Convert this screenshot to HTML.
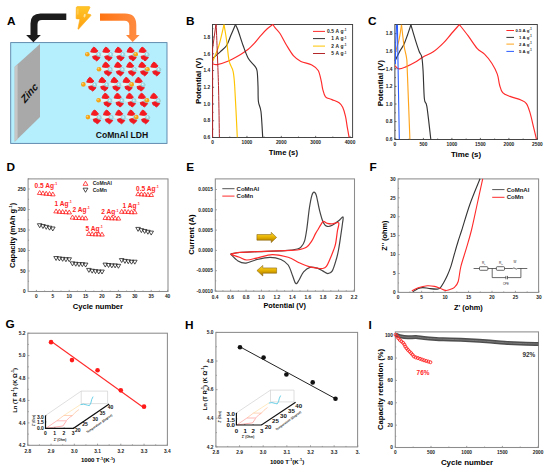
<!DOCTYPE html><html><head><meta charset="utf-8"><style>html,body{margin:0;padding:0;background:#fff;}svg{display:block;}text{font-family:"Liberation Sans", sans-serif;}</style></head><body>
<svg width="550" height="471" viewBox="0 0 550 471">
<rect width="550" height="471" fill="#fff"/>
<text x="7" y="24.6" font-size="11.8" text-anchor="start" font-weight="bold" fill="#000" >A</text>
<rect x="10.7" y="42.6" width="156.3" height="100.8" fill="#b5eefd" stroke="#5682a8" stroke-width="0.9"/>
<path d="M14.7,66.8 L40,44 L40,117.1 L14.7,141.7 Z" fill="#a9a9a9"/>
<path d="M14.7,66.8 L17.6,64.2 L17.6,138.9 L14.7,141.7 Z" fill="#c6c6c6"/>
<text transform="translate(25.0,103.6) rotate(-50) skewX(-6)" x="0" y="0" font-size="10.3" font-weight="bold" font-style="italic" fill="#111">Zinc</text>
<path d="M66.3,13.5 L40.5,13.5 Q30.5,13.5 30.5,23.5 L30.5,35 L26.1,35 L33.4,42.2 L40.9,35 L37.5,35 L37.5,24.5 Q37.5,20.1 41.9,20.1 L66.3,20.1 Z" fill="#1c1c1c"/>
<defs><linearGradient id="og" x1="0" y1="0" x2="1" y2="0"><stop offset="0" stop-color="#ff7412"/><stop offset="1" stop-color="#ff8d45"/></linearGradient><linearGradient id="lg" x1="0" y1="0" x2="0" y2="1"><stop offset="0" stop-color="#ffc626"/><stop offset="1" stop-color="#ff9f10"/></linearGradient><linearGradient id="ag" x1="0" y1="0" x2="0" y2="1"><stop offset="0" stop-color="#f5d445"/><stop offset="0.45" stop-color="#e8b400"/><stop offset="1" stop-color="#a27000"/></linearGradient></defs>
<path d="M100,13.6 L125,13.6 Q136.3,13.6 136.3,25 L136.3,34.9 L139.6,34.9 L132.7,42 L126,34.9 L129.3,34.9 L129.3,25.5 Q129.3,20.7 124.5,20.7 L100,20.7 Z" fill="url(#og)"/>
<path d="M76.3,7.3 L77.2,6.6 L89.4,6.6 L90.0,7.4 L87.0,13.7 L90.6,14.6 L90.9,15.5 L78.4,29.3 L77.9,28.9 L79.9,18.9 L76.6,18.9 L76.1,18.3 Z" fill="url(#lg)" stroke="#fbad14" stroke-width="0.6" stroke-linejoin="round"/>
<path d="M77.9,8.6 V14.6" stroke="#ffe39a" stroke-width="0.6"/><path d="M84.2,14 L85.8,14 L85.1,15.6 L86.2,15.6 L83.6,18.6 L84.3,16.7 L83.3,16.7 Z" fill="#ffe3a0"/>
<path d="M87.3,54.3 H149.3" stroke="#d6f1f3" stroke-width="3.0"/><path d="M87.3,55 H149.3" stroke="#e2c462" stroke-width="0.9" stroke-dasharray="2.2 1.6" opacity="0.9"/><ellipse cx="92.5" cy="54.2" rx="3.6" ry="2.0" fill="#ddf5f7" stroke="#a9d7de" stroke-width="0.3"/><path d="M90.7,51.9 L91.7,49.3 L93.6,47.1 L95.4,48 L96.3,49.3 L97.9,50.8 L96.9,52.1 L94.7,52.5 Z" fill="#f51a20" stroke="#f51a20" stroke-width="0.9" stroke-linejoin="round"/><path d="M92.6,56.4 L95.3,55.7 L98,56.4 L100,57.5 L98.4,59.6 L96.6,60.9 L95.1,59.6 L93.3,58.7 Z" fill="#f01820" stroke="#f01820" stroke-width="0.9" stroke-linejoin="round"/><circle cx="98.7" cy="54.6" r="2.1" fill="#9fdde8" stroke="#6fb0c2" stroke-width="0.35"/><circle cx="98.3" cy="54.1" r="0.8" fill="#effcfd"/><ellipse cx="104.6" cy="54.2" rx="3.6" ry="2.0" fill="#ddf5f7" stroke="#a9d7de" stroke-width="0.3"/><path d="M102.8,51.9 L103.8,49.3 L105.7,47.1 L107.5,48 L108.4,49.3 L110,50.8 L109,52.1 L106.8,52.5 Z" fill="#f51a20" stroke="#f51a20" stroke-width="0.9" stroke-linejoin="round"/><path d="M104.7,56.4 L107.4,55.7 L110.1,56.4 L112.1,57.5 L110.5,59.6 L108.7,60.9 L107.2,59.6 L105.4,58.7 Z" fill="#f01820" stroke="#f01820" stroke-width="0.9" stroke-linejoin="round"/><circle cx="110.8" cy="54.6" r="2.1" fill="#9fdde8" stroke="#6fb0c2" stroke-width="0.35"/><circle cx="110.4" cy="54.1" r="0.8" fill="#effcfd"/><ellipse cx="116.7" cy="54.2" rx="3.6" ry="2.0" fill="#ddf5f7" stroke="#a9d7de" stroke-width="0.3"/><path d="M114.9,51.9 L115.9,49.3 L117.8,47.1 L119.6,48 L120.5,49.3 L122.1,50.8 L121.1,52.1 L118.9,52.5 Z" fill="#f51a20" stroke="#f51a20" stroke-width="0.9" stroke-linejoin="round"/><path d="M116.8,56.4 L119.5,55.7 L122.2,56.4 L124.2,57.5 L122.6,59.6 L120.8,60.9 L119.3,59.6 L117.5,58.7 Z" fill="#f01820" stroke="#f01820" stroke-width="0.9" stroke-linejoin="round"/><circle cx="122.9" cy="54.6" r="2.1" fill="#9fdde8" stroke="#6fb0c2" stroke-width="0.35"/><circle cx="122.5" cy="54.1" r="0.8" fill="#effcfd"/><ellipse cx="128.8" cy="54.2" rx="3.6" ry="2.0" fill="#ddf5f7" stroke="#a9d7de" stroke-width="0.3"/><path d="M127,51.9 L128,49.3 L129.9,47.1 L131.7,48 L132.6,49.3 L134.2,50.8 L133.2,52.1 L131,52.5 Z" fill="#f51a20" stroke="#f51a20" stroke-width="0.9" stroke-linejoin="round"/><path d="M128.9,56.4 L131.6,55.7 L134.3,56.4 L136.3,57.5 L134.7,59.6 L132.9,60.9 L131.4,59.6 L129.6,58.7 Z" fill="#f01820" stroke="#f01820" stroke-width="0.9" stroke-linejoin="round"/><circle cx="135" cy="54.6" r="2.1" fill="#9fdde8" stroke="#6fb0c2" stroke-width="0.35"/><circle cx="134.6" cy="54.1" r="0.8" fill="#effcfd"/><ellipse cx="140.9" cy="54.2" rx="3.6" ry="2.0" fill="#ddf5f7" stroke="#a9d7de" stroke-width="0.3"/><path d="M139.1,51.9 L140.1,49.3 L142,47.1 L143.8,48 L144.7,49.3 L146.3,50.8 L145.3,52.1 L143.1,52.5 Z" fill="#f51a20" stroke="#f51a20" stroke-width="0.9" stroke-linejoin="round"/><path d="M141,56.4 L143.7,55.7 L146.4,56.4 L148.4,57.5 L146.8,59.6 L145,60.9 L143.5,59.6 L141.7,58.7 Z" fill="#f01820" stroke="#f01820" stroke-width="0.9" stroke-linejoin="round"/><circle cx="147.1" cy="54.6" r="2.1" fill="#9fdde8" stroke="#6fb0c2" stroke-width="0.35"/><circle cx="146.7" cy="54.1" r="0.8" fill="#effcfd"/><circle cx="87.3" cy="54.2" r="2.3" fill="#f5a312"/><circle cx="86.7" cy="53.5" r="0.9" fill="#fcd070"/><circle cx="135.7" cy="54.2" r="2.3" fill="#f5a312"/><circle cx="135.1" cy="53.5" r="0.9" fill="#fcd070"/>
<path d="M99,69.3 H161" stroke="#d6f1f3" stroke-width="3.0"/><path d="M99,70 H161" stroke="#e2c462" stroke-width="0.9" stroke-dasharray="2.2 1.6" opacity="0.9"/><ellipse cx="104.2" cy="69.2" rx="3.6" ry="2.0" fill="#ddf5f7" stroke="#a9d7de" stroke-width="0.3"/><path d="M102.4,66.9 L103.4,64.3 L105.3,62.1 L107.1,63 L108,64.3 L109.6,65.8 L108.6,67.1 L106.4,67.5 Z" fill="#f51a20" stroke="#f51a20" stroke-width="0.9" stroke-linejoin="round"/><path d="M104.3,71.4 L107,70.7 L109.7,71.4 L111.7,72.5 L110.1,74.6 L108.3,75.9 L106.8,74.6 L105,73.7 Z" fill="#f01820" stroke="#f01820" stroke-width="0.9" stroke-linejoin="round"/><circle cx="110.4" cy="69.6" r="2.1" fill="#9fdde8" stroke="#6fb0c2" stroke-width="0.35"/><circle cx="110" cy="69.1" r="0.8" fill="#effcfd"/><ellipse cx="116.3" cy="69.2" rx="3.6" ry="2.0" fill="#ddf5f7" stroke="#a9d7de" stroke-width="0.3"/><path d="M114.5,66.9 L115.5,64.3 L117.4,62.1 L119.2,63 L120.1,64.3 L121.7,65.8 L120.7,67.1 L118.5,67.5 Z" fill="#f51a20" stroke="#f51a20" stroke-width="0.9" stroke-linejoin="round"/><path d="M116.4,71.4 L119.1,70.7 L121.8,71.4 L123.8,72.5 L122.2,74.6 L120.4,75.9 L118.9,74.6 L117.1,73.7 Z" fill="#f01820" stroke="#f01820" stroke-width="0.9" stroke-linejoin="round"/><circle cx="122.5" cy="69.6" r="2.1" fill="#9fdde8" stroke="#6fb0c2" stroke-width="0.35"/><circle cx="122.1" cy="69.1" r="0.8" fill="#effcfd"/><ellipse cx="128.4" cy="69.2" rx="3.6" ry="2.0" fill="#ddf5f7" stroke="#a9d7de" stroke-width="0.3"/><path d="M126.6,66.9 L127.6,64.3 L129.5,62.1 L131.3,63 L132.2,64.3 L133.8,65.8 L132.8,67.1 L130.6,67.5 Z" fill="#f51a20" stroke="#f51a20" stroke-width="0.9" stroke-linejoin="round"/><path d="M128.5,71.4 L131.2,70.7 L133.9,71.4 L135.9,72.5 L134.3,74.6 L132.5,75.9 L131,74.6 L129.2,73.7 Z" fill="#f01820" stroke="#f01820" stroke-width="0.9" stroke-linejoin="round"/><circle cx="134.6" cy="69.6" r="2.1" fill="#9fdde8" stroke="#6fb0c2" stroke-width="0.35"/><circle cx="134.2" cy="69.1" r="0.8" fill="#effcfd"/><ellipse cx="140.5" cy="69.2" rx="3.6" ry="2.0" fill="#ddf5f7" stroke="#a9d7de" stroke-width="0.3"/><path d="M138.7,66.9 L139.7,64.3 L141.6,62.1 L143.4,63 L144.3,64.3 L145.9,65.8 L144.9,67.1 L142.7,67.5 Z" fill="#f51a20" stroke="#f51a20" stroke-width="0.9" stroke-linejoin="round"/><path d="M140.6,71.4 L143.3,70.7 L146,71.4 L148,72.5 L146.4,74.6 L144.6,75.9 L143.1,74.6 L141.3,73.7 Z" fill="#f01820" stroke="#f01820" stroke-width="0.9" stroke-linejoin="round"/><circle cx="146.7" cy="69.6" r="2.1" fill="#9fdde8" stroke="#6fb0c2" stroke-width="0.35"/><circle cx="146.3" cy="69.1" r="0.8" fill="#effcfd"/><ellipse cx="152.6" cy="69.2" rx="3.6" ry="2.0" fill="#ddf5f7" stroke="#a9d7de" stroke-width="0.3"/><path d="M150.8,66.9 L151.8,64.3 L153.7,62.1 L155.5,63 L156.4,64.3 L158,65.8 L157,67.1 L154.8,67.5 Z" fill="#f51a20" stroke="#f51a20" stroke-width="0.9" stroke-linejoin="round"/><path d="M152.7,71.4 L155.4,70.7 L158.1,71.4 L160.1,72.5 L158.5,74.6 L156.7,75.9 L155.2,74.6 L153.4,73.7 Z" fill="#f01820" stroke="#f01820" stroke-width="0.9" stroke-linejoin="round"/><circle cx="158.8" cy="69.6" r="2.1" fill="#9fdde8" stroke="#6fb0c2" stroke-width="0.35"/><circle cx="158.4" cy="69.1" r="0.8" fill="#effcfd"/><circle cx="99" cy="69.2" r="2.3" fill="#f5a312"/><circle cx="98.4" cy="68.5" r="0.9" fill="#fcd070"/><circle cx="147.4" cy="69.2" r="2.3" fill="#f5a312"/><circle cx="146.8" cy="68.5" r="0.9" fill="#fcd070"/>
<path d="M83.3,84.5 H145.3" stroke="#d6f1f3" stroke-width="3.0"/><path d="M83.3,85.2 H145.3" stroke="#e2c462" stroke-width="0.9" stroke-dasharray="2.2 1.6" opacity="0.9"/><ellipse cx="88.5" cy="84.4" rx="3.6" ry="2.0" fill="#ddf5f7" stroke="#a9d7de" stroke-width="0.3"/><path d="M86.7,82.1 L87.7,79.5 L89.6,77.3 L91.4,78.2 L92.3,79.5 L93.9,81 L92.9,82.3 L90.7,82.7 Z" fill="#f51a20" stroke="#f51a20" stroke-width="0.9" stroke-linejoin="round"/><path d="M88.6,86.6 L91.3,85.9 L94,86.6 L96,87.7 L94.4,89.8 L92.6,91.1 L91.1,89.8 L89.3,88.9 Z" fill="#f01820" stroke="#f01820" stroke-width="0.9" stroke-linejoin="round"/><circle cx="94.7" cy="84.8" r="2.1" fill="#9fdde8" stroke="#6fb0c2" stroke-width="0.35"/><circle cx="94.3" cy="84.3" r="0.8" fill="#effcfd"/><ellipse cx="100.6" cy="84.4" rx="3.6" ry="2.0" fill="#ddf5f7" stroke="#a9d7de" stroke-width="0.3"/><path d="M98.8,82.1 L99.8,79.5 L101.7,77.3 L103.5,78.2 L104.4,79.5 L106,81 L105,82.3 L102.8,82.7 Z" fill="#f51a20" stroke="#f51a20" stroke-width="0.9" stroke-linejoin="round"/><path d="M100.7,86.6 L103.4,85.9 L106.1,86.6 L108.1,87.7 L106.5,89.8 L104.7,91.1 L103.2,89.8 L101.4,88.9 Z" fill="#f01820" stroke="#f01820" stroke-width="0.9" stroke-linejoin="round"/><circle cx="106.8" cy="84.8" r="2.1" fill="#9fdde8" stroke="#6fb0c2" stroke-width="0.35"/><circle cx="106.4" cy="84.3" r="0.8" fill="#effcfd"/><ellipse cx="112.7" cy="84.4" rx="3.6" ry="2.0" fill="#ddf5f7" stroke="#a9d7de" stroke-width="0.3"/><path d="M110.9,82.1 L111.9,79.5 L113.8,77.3 L115.6,78.2 L116.5,79.5 L118.1,81 L117.1,82.3 L114.9,82.7 Z" fill="#f51a20" stroke="#f51a20" stroke-width="0.9" stroke-linejoin="round"/><path d="M112.8,86.6 L115.5,85.9 L118.2,86.6 L120.2,87.7 L118.6,89.8 L116.8,91.1 L115.3,89.8 L113.5,88.9 Z" fill="#f01820" stroke="#f01820" stroke-width="0.9" stroke-linejoin="round"/><circle cx="118.9" cy="84.8" r="2.1" fill="#9fdde8" stroke="#6fb0c2" stroke-width="0.35"/><circle cx="118.5" cy="84.3" r="0.8" fill="#effcfd"/><ellipse cx="124.8" cy="84.4" rx="3.6" ry="2.0" fill="#ddf5f7" stroke="#a9d7de" stroke-width="0.3"/><path d="M123,82.1 L124,79.5 L125.9,77.3 L127.7,78.2 L128.6,79.5 L130.2,81 L129.2,82.3 L127,82.7 Z" fill="#f51a20" stroke="#f51a20" stroke-width="0.9" stroke-linejoin="round"/><path d="M124.9,86.6 L127.6,85.9 L130.3,86.6 L132.3,87.7 L130.7,89.8 L128.9,91.1 L127.4,89.8 L125.6,88.9 Z" fill="#f01820" stroke="#f01820" stroke-width="0.9" stroke-linejoin="round"/><circle cx="131" cy="84.8" r="2.1" fill="#9fdde8" stroke="#6fb0c2" stroke-width="0.35"/><circle cx="130.6" cy="84.3" r="0.8" fill="#effcfd"/><ellipse cx="136.9" cy="84.4" rx="3.6" ry="2.0" fill="#ddf5f7" stroke="#a9d7de" stroke-width="0.3"/><path d="M135.1,82.1 L136.1,79.5 L138,77.3 L139.8,78.2 L140.7,79.5 L142.3,81 L141.3,82.3 L139.1,82.7 Z" fill="#f51a20" stroke="#f51a20" stroke-width="0.9" stroke-linejoin="round"/><path d="M137,86.6 L139.7,85.9 L142.4,86.6 L144.4,87.7 L142.8,89.8 L141,91.1 L139.5,89.8 L137.7,88.9 Z" fill="#f01820" stroke="#f01820" stroke-width="0.9" stroke-linejoin="round"/><circle cx="143.1" cy="84.8" r="2.1" fill="#9fdde8" stroke="#6fb0c2" stroke-width="0.35"/><circle cx="142.7" cy="84.3" r="0.8" fill="#effcfd"/><circle cx="83.3" cy="84.4" r="2.3" fill="#f5a312"/><circle cx="82.7" cy="83.7" r="0.9" fill="#fcd070"/><circle cx="131.7" cy="84.4" r="2.3" fill="#f5a312"/><circle cx="131.1" cy="83.7" r="0.9" fill="#fcd070"/>
<path d="M98.6,100.4 H160.6" stroke="#d6f1f3" stroke-width="3.0"/><path d="M98.6,101.1 H160.6" stroke="#e2c462" stroke-width="0.9" stroke-dasharray="2.2 1.6" opacity="0.9"/><ellipse cx="103.8" cy="100.3" rx="3.6" ry="2.0" fill="#ddf5f7" stroke="#a9d7de" stroke-width="0.3"/><path d="M102,98 L103,95.4 L104.9,93.2 L106.7,94.1 L107.6,95.4 L109.2,96.9 L108.2,98.2 L106,98.6 Z" fill="#f51a20" stroke="#f51a20" stroke-width="0.9" stroke-linejoin="round"/><path d="M103.9,102.5 L106.6,101.8 L109.3,102.5 L111.3,103.6 L109.7,105.7 L107.9,107 L106.4,105.7 L104.6,104.8 Z" fill="#f01820" stroke="#f01820" stroke-width="0.9" stroke-linejoin="round"/><circle cx="110" cy="100.7" r="2.1" fill="#9fdde8" stroke="#6fb0c2" stroke-width="0.35"/><circle cx="109.6" cy="100.2" r="0.8" fill="#effcfd"/><ellipse cx="115.9" cy="100.3" rx="3.6" ry="2.0" fill="#ddf5f7" stroke="#a9d7de" stroke-width="0.3"/><path d="M114.1,98 L115.1,95.4 L117,93.2 L118.8,94.1 L119.7,95.4 L121.3,96.9 L120.3,98.2 L118.1,98.6 Z" fill="#f51a20" stroke="#f51a20" stroke-width="0.9" stroke-linejoin="round"/><path d="M116,102.5 L118.7,101.8 L121.4,102.5 L123.4,103.6 L121.8,105.7 L120,107 L118.5,105.7 L116.7,104.8 Z" fill="#f01820" stroke="#f01820" stroke-width="0.9" stroke-linejoin="round"/><circle cx="122.1" cy="100.7" r="2.1" fill="#9fdde8" stroke="#6fb0c2" stroke-width="0.35"/><circle cx="121.7" cy="100.2" r="0.8" fill="#effcfd"/><ellipse cx="128" cy="100.3" rx="3.6" ry="2.0" fill="#ddf5f7" stroke="#a9d7de" stroke-width="0.3"/><path d="M126.2,98 L127.2,95.4 L129.1,93.2 L130.9,94.1 L131.8,95.4 L133.4,96.9 L132.4,98.2 L130.2,98.6 Z" fill="#f51a20" stroke="#f51a20" stroke-width="0.9" stroke-linejoin="round"/><path d="M128.1,102.5 L130.8,101.8 L133.5,102.5 L135.5,103.6 L133.9,105.7 L132.1,107 L130.6,105.7 L128.8,104.8 Z" fill="#f01820" stroke="#f01820" stroke-width="0.9" stroke-linejoin="round"/><circle cx="134.2" cy="100.7" r="2.1" fill="#9fdde8" stroke="#6fb0c2" stroke-width="0.35"/><circle cx="133.8" cy="100.2" r="0.8" fill="#effcfd"/><ellipse cx="140.1" cy="100.3" rx="3.6" ry="2.0" fill="#ddf5f7" stroke="#a9d7de" stroke-width="0.3"/><path d="M138.3,98 L139.3,95.4 L141.2,93.2 L143,94.1 L143.9,95.4 L145.5,96.9 L144.5,98.2 L142.3,98.6 Z" fill="#f51a20" stroke="#f51a20" stroke-width="0.9" stroke-linejoin="round"/><path d="M140.2,102.5 L142.9,101.8 L145.6,102.5 L147.6,103.6 L146,105.7 L144.2,107 L142.7,105.7 L140.9,104.8 Z" fill="#f01820" stroke="#f01820" stroke-width="0.9" stroke-linejoin="round"/><circle cx="146.3" cy="100.7" r="2.1" fill="#9fdde8" stroke="#6fb0c2" stroke-width="0.35"/><circle cx="145.9" cy="100.2" r="0.8" fill="#effcfd"/><ellipse cx="152.2" cy="100.3" rx="3.6" ry="2.0" fill="#ddf5f7" stroke="#a9d7de" stroke-width="0.3"/><path d="M150.4,98 L151.4,95.4 L153.3,93.2 L155.1,94.1 L156,95.4 L157.6,96.9 L156.6,98.2 L154.4,98.6 Z" fill="#f51a20" stroke="#f51a20" stroke-width="0.9" stroke-linejoin="round"/><path d="M152.3,102.5 L155,101.8 L157.7,102.5 L159.7,103.6 L158.1,105.7 L156.3,107 L154.8,105.7 L153,104.8 Z" fill="#f01820" stroke="#f01820" stroke-width="0.9" stroke-linejoin="round"/><circle cx="158.4" cy="100.7" r="2.1" fill="#9fdde8" stroke="#6fb0c2" stroke-width="0.35"/><circle cx="158" cy="100.2" r="0.8" fill="#effcfd"/><circle cx="98.6" cy="100.3" r="2.3" fill="#f5a312"/><circle cx="98" cy="99.6" r="0.9" fill="#fcd070"/><circle cx="147" cy="100.3" r="2.3" fill="#f5a312"/><circle cx="146.4" cy="99.6" r="0.9" fill="#fcd070"/>
<path d="M87.9,117.2 H149.9" stroke="#d6f1f3" stroke-width="3.0"/><path d="M87.9,117.9 H149.9" stroke="#e2c462" stroke-width="0.9" stroke-dasharray="2.2 1.6" opacity="0.9"/><ellipse cx="93.1" cy="117.1" rx="3.6" ry="2.0" fill="#ddf5f7" stroke="#a9d7de" stroke-width="0.3"/><path d="M91.3,114.8 L92.3,112.2 L94.2,110 L96,110.9 L96.9,112.2 L98.5,113.7 L97.5,115 L95.3,115.4 Z" fill="#f51a20" stroke="#f51a20" stroke-width="0.9" stroke-linejoin="round"/><path d="M93.2,119.3 L95.9,118.6 L98.6,119.3 L100.6,120.4 L99,122.5 L97.2,123.8 L95.7,122.5 L93.9,121.6 Z" fill="#f01820" stroke="#f01820" stroke-width="0.9" stroke-linejoin="round"/><circle cx="99.3" cy="117.5" r="2.1" fill="#9fdde8" stroke="#6fb0c2" stroke-width="0.35"/><circle cx="98.9" cy="117" r="0.8" fill="#effcfd"/><ellipse cx="105.2" cy="117.1" rx="3.6" ry="2.0" fill="#ddf5f7" stroke="#a9d7de" stroke-width="0.3"/><path d="M103.4,114.8 L104.4,112.2 L106.3,110 L108.1,110.9 L109,112.2 L110.6,113.7 L109.6,115 L107.4,115.4 Z" fill="#f51a20" stroke="#f51a20" stroke-width="0.9" stroke-linejoin="round"/><path d="M105.3,119.3 L108,118.6 L110.7,119.3 L112.7,120.4 L111.1,122.5 L109.3,123.8 L107.8,122.5 L106,121.6 Z" fill="#f01820" stroke="#f01820" stroke-width="0.9" stroke-linejoin="round"/><circle cx="111.4" cy="117.5" r="2.1" fill="#9fdde8" stroke="#6fb0c2" stroke-width="0.35"/><circle cx="111" cy="117" r="0.8" fill="#effcfd"/><ellipse cx="117.3" cy="117.1" rx="3.6" ry="2.0" fill="#ddf5f7" stroke="#a9d7de" stroke-width="0.3"/><path d="M115.5,114.8 L116.5,112.2 L118.4,110 L120.2,110.9 L121.1,112.2 L122.7,113.7 L121.7,115 L119.5,115.4 Z" fill="#f51a20" stroke="#f51a20" stroke-width="0.9" stroke-linejoin="round"/><path d="M117.4,119.3 L120.1,118.6 L122.8,119.3 L124.8,120.4 L123.2,122.5 L121.4,123.8 L119.9,122.5 L118.1,121.6 Z" fill="#f01820" stroke="#f01820" stroke-width="0.9" stroke-linejoin="round"/><circle cx="123.5" cy="117.5" r="2.1" fill="#9fdde8" stroke="#6fb0c2" stroke-width="0.35"/><circle cx="123.1" cy="117" r="0.8" fill="#effcfd"/><ellipse cx="129.4" cy="117.1" rx="3.6" ry="2.0" fill="#ddf5f7" stroke="#a9d7de" stroke-width="0.3"/><path d="M127.6,114.8 L128.6,112.2 L130.5,110 L132.3,110.9 L133.2,112.2 L134.8,113.7 L133.8,115 L131.6,115.4 Z" fill="#f51a20" stroke="#f51a20" stroke-width="0.9" stroke-linejoin="round"/><path d="M129.5,119.3 L132.2,118.6 L134.9,119.3 L136.9,120.4 L135.3,122.5 L133.5,123.8 L132,122.5 L130.2,121.6 Z" fill="#f01820" stroke="#f01820" stroke-width="0.9" stroke-linejoin="round"/><circle cx="135.6" cy="117.5" r="2.1" fill="#9fdde8" stroke="#6fb0c2" stroke-width="0.35"/><circle cx="135.2" cy="117" r="0.8" fill="#effcfd"/><ellipse cx="141.5" cy="117.1" rx="3.6" ry="2.0" fill="#ddf5f7" stroke="#a9d7de" stroke-width="0.3"/><path d="M139.7,114.8 L140.7,112.2 L142.6,110 L144.4,110.9 L145.3,112.2 L146.9,113.7 L145.9,115 L143.7,115.4 Z" fill="#f51a20" stroke="#f51a20" stroke-width="0.9" stroke-linejoin="round"/><path d="M141.6,119.3 L144.3,118.6 L147,119.3 L149,120.4 L147.4,122.5 L145.6,123.8 L144.1,122.5 L142.3,121.6 Z" fill="#f01820" stroke="#f01820" stroke-width="0.9" stroke-linejoin="round"/><circle cx="147.7" cy="117.5" r="2.1" fill="#9fdde8" stroke="#6fb0c2" stroke-width="0.35"/><circle cx="147.3" cy="117" r="0.8" fill="#effcfd"/><circle cx="87.9" cy="117.1" r="2.3" fill="#f5a312"/><circle cx="87.3" cy="116.4" r="0.9" fill="#fcd070"/><circle cx="136.3" cy="117.1" r="2.3" fill="#f5a312"/><circle cx="135.7" cy="116.4" r="0.9" fill="#fcd070"/>
<text x="122" y="137.6" font-size="8.6" text-anchor="middle" font-weight="bold" fill="#111" >CoMnAl LDH</text>
<text x="185.9" y="24.9" font-size="11.8" text-anchor="start" font-weight="bold" fill="#000" >B</text>
<rect x="212.5" y="24.5" width="140.1" height="113" fill="none" stroke="#3c3c3c" stroke-width="0.95"/>
<path d="M212.6,137.5 v-1.6 M246.95,137.5 v-1.6 M281.3,137.5 v-1.6 M315.65,137.5 v-1.6 M350,137.5 v-1.6 M229.78,137.5 v-0.96 M264.12,137.5 v-0.96 M298.48,137.5 v-0.96 M332.82,137.5 v-0.96 M212.5,137.5 h1.6 M212.5,120.76 h1.6 M212.5,104.02 h1.6 M212.5,87.28 h1.6 M212.5,70.54 h1.6 M212.5,53.8 h1.6 M212.5,37.06 h1.6 M212.5,129.13 h0.96 M212.5,112.39 h0.96 M212.5,95.65 h0.96 M212.5,78.91 h0.96 M212.5,62.17 h0.96 M212.5,45.43 h0.96 M212.5,28.69 h0.96" stroke="#3c3c3c" stroke-width="0.76" fill="none"/>
<text x="212.6" y="144.1" font-size="4.8" text-anchor="middle" font-weight="bold" fill="#222" >0</text>
<text x="246.95" y="144.1" font-size="4.8" text-anchor="middle" font-weight="bold" fill="#222" >1000</text>
<text x="281.3" y="144.1" font-size="4.8" text-anchor="middle" font-weight="bold" fill="#222" >2000</text>
<text x="315.65" y="144.1" font-size="4.8" text-anchor="middle" font-weight="bold" fill="#222" >3000</text>
<text x="350" y="144.1" font-size="4.8" text-anchor="middle" font-weight="bold" fill="#222" >4000</text>
<text x="210.1" y="139.23" font-size="4.8" text-anchor="end" font-weight="bold" fill="#222" >0.6</text>
<text x="210.1" y="122.49" font-size="4.8" text-anchor="end" font-weight="bold" fill="#222" >0.8</text>
<text x="210.1" y="105.75" font-size="4.8" text-anchor="end" font-weight="bold" fill="#222" >1.0</text>
<text x="210.1" y="89.01" font-size="4.8" text-anchor="end" font-weight="bold" fill="#222" >1.2</text>
<text x="210.1" y="72.27" font-size="4.8" text-anchor="end" font-weight="bold" fill="#222" >1.4</text>
<text x="210.1" y="55.53" font-size="4.8" text-anchor="end" font-weight="bold" fill="#222" >1.6</text>
<text x="210.1" y="38.79" font-size="4.8" text-anchor="end" font-weight="bold" fill="#222" >1.8</text>
<path d="M212.5,63.8 C213.27,63.93 214.55,65.02 217.1,64.6 C219.65,64.18 223.88,63 227.8,61.3 C231.72,59.6 237.2,56.4 240.6,54.4 C244,52.4 245.8,51.28 248.2,49.3 C250.6,47.32 252.87,44.83 255,42.5 C257.13,40.17 259,37.55 261,35.3 C263,33.05 265,30.82 267,29 C269,27.18 272,25.17 273,24.4" stroke="#ff2a2a" stroke-width="1.15" fill="none" stroke-linejoin="round" />
<path d="M273,24.4 C273.33,24.93 273.83,26.08 275,27.6 C276.17,29.12 278.1,30.6 280,33.5 C281.9,36.4 284.13,41.27 286.4,45 C288.67,48.73 291.18,53.17 293.6,55.9 C296.02,58.63 297.87,59.88 300.9,61.4 C303.93,62.92 308.92,63.48 311.8,65 C314.68,66.52 316.62,67.77 318.2,70.5 C319.78,73.23 320.55,78.3 321.3,81.4 C322.05,84.5 322,86.53 322.7,89.1 C323.4,91.67 323.95,95.05 325.5,96.8 C327.05,98.55 329.73,98.62 332,99.6 C334.27,100.58 337.32,101.42 339.1,102.7 C340.88,103.98 341.63,105.02 342.7,107.3 C343.77,109.58 344.73,113.07 345.5,116.4 C346.27,119.73 346.7,123.82 347.3,127.3 C347.9,130.78 348.8,135.63 349.1,137.3" stroke="#ff2a2a" stroke-width="1.15" fill="none" stroke-linejoin="round" />
<path d="M213,58.2 C214.2,57.13 217.93,53.92 220.2,51.8 C222.47,49.68 224.8,48.3 226.6,45.5 C228.4,42.7 229.52,38.48 231,35 C232.48,31.52 234.75,26.33 235.5,24.6" stroke="#333" stroke-width="1.15" fill="none" stroke-linejoin="round" />
<path d="M235.5,24.6 C235.92,25.53 236.73,26.72 238,30.2 C239.27,33.68 241.4,40.83 243.1,45.5 C244.8,50.17 246.28,54.8 248.2,58.2 C250.12,61.6 253.12,63.77 254.6,65.9 C256.08,68.03 256.53,67.65 257.1,71 C257.67,74.35 257.78,80.92 258,86 C258.22,91.08 257.9,97.22 258.4,101.5 C258.9,105.78 260.28,105.73 261,111.7 C261.72,117.67 262.42,133.03 262.7,137.3" stroke="#333" stroke-width="1.15" fill="none" stroke-linejoin="round" />
<path d="M213,60.8 C213.98,58.25 217.07,51.53 218.9,45.5 C220.73,39.47 223.15,28.08 224,24.6" stroke="#ffc400" stroke-width="1.15" fill="none" stroke-linejoin="round" />
<path d="M224,24.6 C224.43,27.23 225.75,34.37 226.6,40.4 C227.45,46.43 228.03,55.7 229.1,60.8 C230.17,65.9 232.07,66.77 233,71 C233.93,75.23 233.98,75.15 234.7,86.2 C235.42,97.25 236.87,128.78 237.3,137.3" stroke="#ffc400" stroke-width="1.15" fill="none" stroke-linejoin="round" />
<path d="M212.6,137.5 L212.6,48.6 L215.9,24.4" stroke="#b3262a" stroke-width="1" fill="none" stroke-linejoin="round"/>
<path d="M216.2,24.4 C216.43,30.33 217.2,49.07 217.6,60 C218,70.93 218.3,77.12 218.6,90 C218.9,102.88 219.27,129.42 219.4,137.3" stroke="#b3262a" stroke-width="1" fill="none" stroke-linejoin="round" />
<path d="M313,31.4 H325" stroke="#ff2a2a" stroke-width="1"/>
<text x="346.6" y="33.2" font-size="4.9" text-anchor="end" font-weight="bold" fill="#222" letter-spacing="0.15">0.5 A g<tspan dy="-1.8" font-size="3">-1</tspan></text>
<path d="M313,38.6 H325" stroke="#333" stroke-width="1"/>
<text x="346.6" y="40.4" font-size="4.9" text-anchor="end" font-weight="bold" fill="#222" letter-spacing="0.15">1 A g<tspan dy="-1.8" font-size="3">-1</tspan></text>
<path d="M313,46.1 H325" stroke="#ffc400" stroke-width="1"/>
<text x="346.6" y="47.9" font-size="4.9" text-anchor="end" font-weight="bold" fill="#222" letter-spacing="0.15">2 A g<tspan dy="-1.8" font-size="3">-1</tspan></text>
<path d="M313,53.5 H325" stroke="#b3262a" stroke-width="1"/>
<text x="346.6" y="55.3" font-size="4.9" text-anchor="end" font-weight="bold" fill="#222" letter-spacing="0.15">5 A g<tspan dy="-1.8" font-size="3">-1</tspan></text>
<text transform="translate(198.3,81) rotate(-90)" x="0" y="0" font-size="7.9" text-anchor="middle" dominant-baseline="central" font-weight="bold" fill="#000">Potential (V)</text>
<text x="283.3" y="155" font-size="7.7" text-anchor="middle" font-weight="bold" fill="#000" >Time (s)</text>
<text x="368" y="24.6" font-size="11.8" text-anchor="start" font-weight="bold" fill="#000" >C</text>
<rect x="394.9" y="24.5" width="142.4" height="115" fill="none" stroke="#3c3c3c" stroke-width="0.95"/>
<path d="M394.9,139.5 v-1.6 M423.4,139.5 v-1.6 M451.9,139.5 v-1.6 M480.4,139.5 v-1.6 M508.9,139.5 v-1.6 M537.4,139.5 v-1.6 M409.15,139.5 v-0.96 M437.65,139.5 v-0.96 M466.15,139.5 v-0.96 M494.65,139.5 v-0.96 M523.15,139.5 v-0.96 M394.9,139.2 h1.6 M394.9,121.6 h1.6 M394.9,104 h1.6 M394.9,86.4 h1.6 M394.9,68.8 h1.6 M394.9,51.2 h1.6 M394.9,33.6 h1.6 M394.9,130.4 h0.96 M394.9,112.8 h0.96 M394.9,95.2 h0.96 M394.9,77.6 h0.96 M394.9,60 h0.96 M394.9,42.4 h0.96" stroke="#3c3c3c" stroke-width="0.76" fill="none"/>
<text x="394.9" y="146.1" font-size="4.8" text-anchor="middle" font-weight="bold" fill="#222" >0</text>
<text x="423.4" y="146.1" font-size="4.8" text-anchor="middle" font-weight="bold" fill="#222" >500</text>
<text x="451.9" y="146.1" font-size="4.8" text-anchor="middle" font-weight="bold" fill="#222" >1000</text>
<text x="480.4" y="146.1" font-size="4.8" text-anchor="middle" font-weight="bold" fill="#222" >1500</text>
<text x="508.9" y="146.1" font-size="4.8" text-anchor="middle" font-weight="bold" fill="#222" >2000</text>
<text x="537.4" y="146.1" font-size="4.8" text-anchor="middle" font-weight="bold" fill="#222" >2500</text>
<text x="392.5" y="140.93" font-size="4.8" text-anchor="end" font-weight="bold" fill="#222" >0.6</text>
<text x="392.5" y="123.33" font-size="4.8" text-anchor="end" font-weight="bold" fill="#222" >0.8</text>
<text x="392.5" y="105.73" font-size="4.8" text-anchor="end" font-weight="bold" fill="#222" >1.0</text>
<text x="392.5" y="88.13" font-size="4.8" text-anchor="end" font-weight="bold" fill="#222" >1.2</text>
<text x="392.5" y="70.53" font-size="4.8" text-anchor="end" font-weight="bold" fill="#222" >1.4</text>
<text x="392.5" y="52.93" font-size="4.8" text-anchor="end" font-weight="bold" fill="#222" >1.6</text>
<text x="392.5" y="35.33" font-size="4.8" text-anchor="end" font-weight="bold" fill="#222" >1.8</text>
<path d="M395.1,65.9 C395.73,66.4 397.2,68.7 398.9,68.9 C400.6,69.1 402.53,68.25 405.3,67.1 C408.07,65.95 412.53,63.7 415.5,62 C418.47,60.3 420.13,58.6 423.1,56.9 C426.07,55.2 429.9,54.13 433.3,51.8 C436.7,49.47 440.53,45.87 443.5,42.9 C446.47,39.93 448.45,37.05 451.1,34 C453.75,30.95 458.02,26.17 459.4,24.6" stroke="#ff2a2a" stroke-width="1.15" fill="none" stroke-linejoin="round" />
<path d="M459.4,24.6 C460.87,26.48 465.22,31.9 468.2,35.9 C471.18,39.9 474.58,45.57 477.3,48.6 C480.02,51.63 482.08,51.67 484.5,54.1 C486.92,56.53 489.67,59.87 491.8,63.2 C493.93,66.53 496,70.47 497.3,74.1 C498.6,77.73 498.7,81.92 499.6,85 C500.5,88.08 500.97,90.7 502.7,92.6 C504.43,94.5 506.97,95.17 510,96.4 C513.03,97.63 518.17,98.8 520.9,100 C523.63,101.2 524.88,101.48 526.4,103.6 C527.92,105.72 528.8,108.75 530,112.7 C531.2,116.65 532.53,122.9 533.6,127.3 C534.67,131.7 535.93,137.13 536.4,139.1" stroke="#ff2a2a" stroke-width="1.15" fill="none" stroke-linejoin="round" />
<path d="M395.1,60.8 C395.95,59.1 398.72,53.37 400.2,50.6 C401.68,47.83 402.78,46.8 404,44.2 C405.22,41.6 406.35,38.22 407.5,35 C408.65,31.78 410.33,26.58 410.9,24.9" stroke="#333" stroke-width="1.15" fill="none" stroke-linejoin="round" />
<path d="M410.9,24.9 C411.67,27.48 414.1,35.92 415.5,40.4 C416.9,44.88 418.25,49.03 419.3,51.8 C420.35,54.57 421.17,53.8 421.8,57 C422.43,60.2 422.67,64 423.1,71 C423.53,78 423.77,93.07 424.4,99 C425.03,104.93 425.83,99.9 426.9,106.6 C427.97,113.3 430.15,133.77 430.8,139.2" stroke="#333" stroke-width="1.15" fill="none" stroke-linejoin="round" />
<path d="M395.1,53.1 C395.73,50.98 397.83,45.1 398.9,40.4 C399.97,35.7 401.07,27.48 401.5,24.9" stroke="#ffa31a" stroke-width="1.15" fill="none" stroke-linejoin="round" />
<path d="M401.5,24.9 C401.92,28.33 403.15,39.95 404,45.5 C404.85,51.05 406.05,53.95 406.6,58.2 C407.15,62.45 406.75,57.5 407.3,71 C407.85,84.5 409.47,127.83 409.9,139.2" stroke="#ffa31a" stroke-width="1.15" fill="none" stroke-linejoin="round" />
<path d="M395.4,64 L395.7,42.9 L396.6,24.8" stroke="#2a5cff" stroke-width="1.1" fill="none" stroke-linejoin="round"/>
<path d="M397.4,24.8 C397.55,34 397.98,60.93 398.3,80 C398.62,99.07 399.13,129.33 399.3,139.2" stroke="#2a5cff" stroke-width="1.1" fill="none" stroke-linejoin="round" />
<path d="M506.4,30.5 H514" stroke="#ff2a2a" stroke-width="1"/>
<text x="531.8" y="32" font-size="4.3" text-anchor="end" font-weight="bold" fill="#222" >0.5 A g<tspan dy="-1.6" font-size="2.8">-1</tspan></text>
<path d="M506.4,37.4 H514" stroke="#333" stroke-width="1"/>
<text x="531.8" y="38.9" font-size="4.3" text-anchor="end" font-weight="bold" fill="#222" >1 A g<tspan dy="-1.6" font-size="2.8">-1</tspan></text>
<path d="M506.4,44.1 H514" stroke="#ffa31a" stroke-width="1"/>
<text x="531.8" y="45.6" font-size="4.3" text-anchor="end" font-weight="bold" fill="#222" >2 A g<tspan dy="-1.6" font-size="2.8">-1</tspan></text>
<path d="M506.4,51.4 H514" stroke="#2a5cff" stroke-width="1"/>
<text x="531.8" y="52.9" font-size="4.3" text-anchor="end" font-weight="bold" fill="#222" >5 A g<tspan dy="-1.6" font-size="2.8">-1</tspan></text>
<text transform="translate(380.9,83.2) rotate(-90)" x="0" y="0" font-size="7.9" text-anchor="middle" dominant-baseline="central" font-weight="bold" fill="#000">Potential (V)</text>
<text x="466" y="157" font-size="7.9" text-anchor="middle" font-weight="bold" fill="#000" >Time (s)</text>
<text x="6.5" y="171.4" font-size="11.8" text-anchor="start" font-weight="bold" fill="#000" >D</text>
<rect x="28.1" y="178.9" width="139.9" height="112.6" fill="none" stroke="#8c8c8c" stroke-width="1.05"/>
<path d="M36.4,291.5 v-1.6 M52.8,291.5 v-1.6 M69.2,291.5 v-1.6 M85.6,291.5 v-1.6 M102,291.5 v-1.6 M118.4,291.5 v-1.6 M134.8,291.5 v-1.6 M151.2,291.5 v-1.6 M167.6,291.5 v-1.6 M44.6,291.5 v-0.96 M61,291.5 v-0.96 M77.4,291.5 v-0.96 M93.8,291.5 v-0.96 M110.2,291.5 v-0.96 M126.6,291.5 v-0.96 M143,291.5 v-0.96 M159.4,291.5 v-0.96 M28.1,291.5 h1.6 M28.1,271 h1.6 M28.1,250.5 h1.6 M28.1,230 h1.6 M28.1,209.5 h1.6 M28.1,189 h1.6 M28.1,281.25 h0.96 M28.1,260.75 h0.96 M28.1,240.25 h0.96 M28.1,219.75 h0.96 M28.1,199.25 h0.96 M28.1,178.75 h0.96" stroke="#8c8c8c" stroke-width="0.84" fill="none"/>
<text x="36.4" y="298.1" font-size="4.8" text-anchor="middle" font-weight="bold" fill="#222" >0</text>
<text x="52.8" y="298.1" font-size="4.8" text-anchor="middle" font-weight="bold" fill="#222" >5</text>
<text x="69.2" y="298.1" font-size="4.8" text-anchor="middle" font-weight="bold" fill="#222" >10</text>
<text x="85.6" y="298.1" font-size="4.8" text-anchor="middle" font-weight="bold" fill="#222" >15</text>
<text x="102" y="298.1" font-size="4.8" text-anchor="middle" font-weight="bold" fill="#222" >20</text>
<text x="118.4" y="298.1" font-size="4.8" text-anchor="middle" font-weight="bold" fill="#222" >25</text>
<text x="134.8" y="298.1" font-size="4.8" text-anchor="middle" font-weight="bold" fill="#222" >30</text>
<text x="151.2" y="298.1" font-size="4.8" text-anchor="middle" font-weight="bold" fill="#222" >35</text>
<text x="167.6" y="298.1" font-size="4.8" text-anchor="middle" font-weight="bold" fill="#222" >40</text>
<text x="25.7" y="293.23" font-size="4.8" text-anchor="end" font-weight="bold" fill="#222" >0</text>
<text x="25.7" y="272.73" font-size="4.8" text-anchor="end" font-weight="bold" fill="#222" >50</text>
<text x="25.7" y="252.23" font-size="4.8" text-anchor="end" font-weight="bold" fill="#222" >100</text>
<text x="25.7" y="231.73" font-size="4.8" text-anchor="end" font-weight="bold" fill="#222" >150</text>
<text x="25.7" y="211.23" font-size="4.8" text-anchor="end" font-weight="bold" fill="#222" >200</text>
<text x="25.7" y="190.73" font-size="4.8" text-anchor="end" font-weight="bold" fill="#222" >250</text>
<path d="M39.68,190.49 l2.31,3.96 h-4.62 Z" fill="none" stroke="#ff2020" stroke-width="0.8"/><path d="M42.96,190.9 l2.31,3.96 h-4.62 Z" fill="none" stroke="#ff2020" stroke-width="0.8"/><path d="M46.24,191.31 l2.31,3.96 h-4.62 Z" fill="none" stroke="#ff2020" stroke-width="0.8"/><path d="M49.52,191.52 l2.31,3.96 h-4.62 Z" fill="none" stroke="#ff2020" stroke-width="0.8"/><path d="M52.8,191.93 l2.31,3.96 h-4.62 Z" fill="none" stroke="#ff2020" stroke-width="0.8"/><path d="M56.08,208.94 l2.31,3.96 h-4.62 Z" fill="none" stroke="#ff2020" stroke-width="0.8"/><path d="M59.36,209.35 l2.31,3.96 h-4.62 Z" fill="none" stroke="#ff2020" stroke-width="0.8"/><path d="M62.64,209.56 l2.31,3.96 h-4.62 Z" fill="none" stroke="#ff2020" stroke-width="0.8"/><path d="M65.92,209.76 l2.31,3.96 h-4.62 Z" fill="none" stroke="#ff2020" stroke-width="0.8"/><path d="M69.2,209.97 l2.31,3.96 h-4.62 Z" fill="none" stroke="#ff2020" stroke-width="0.8"/><path d="M72.48,215.09 l2.31,3.96 h-4.62 Z" fill="none" stroke="#ff2020" stroke-width="0.8"/><path d="M75.76,215.5 l2.31,3.96 h-4.62 Z" fill="none" stroke="#ff2020" stroke-width="0.8"/><path d="M79.04,215.5 l2.31,3.96 h-4.62 Z" fill="none" stroke="#ff2020" stroke-width="0.8"/><path d="M82.32,215.71 l2.31,3.96 h-4.62 Z" fill="none" stroke="#ff2020" stroke-width="0.8"/><path d="M85.6,215.91 l2.31,3.96 h-4.62 Z" fill="none" stroke="#ff2020" stroke-width="0.8"/><path d="M88.88,231.49 l2.31,3.96 h-4.62 Z" fill="none" stroke="#ff2020" stroke-width="0.8"/><path d="M92.16,231.7 l2.31,3.96 h-4.62 Z" fill="none" stroke="#ff2020" stroke-width="0.8"/><path d="M95.44,231.9 l2.31,3.96 h-4.62 Z" fill="none" stroke="#ff2020" stroke-width="0.8"/><path d="M98.72,231.9 l2.31,3.96 h-4.62 Z" fill="none" stroke="#ff2020" stroke-width="0.8"/><path d="M102,232.11 l2.31,3.96 h-4.62 Z" fill="none" stroke="#ff2020" stroke-width="0.8"/><path d="M105.28,215.5 l2.31,3.96 h-4.62 Z" fill="none" stroke="#ff2020" stroke-width="0.8"/><path d="M108.56,215.71 l2.31,3.96 h-4.62 Z" fill="none" stroke="#ff2020" stroke-width="0.8"/><path d="M111.84,215.91 l2.31,3.96 h-4.62 Z" fill="none" stroke="#ff2020" stroke-width="0.8"/><path d="M115.12,215.91 l2.31,3.96 h-4.62 Z" fill="none" stroke="#ff2020" stroke-width="0.8"/><path d="M118.4,216.12 l2.31,3.96 h-4.62 Z" fill="none" stroke="#ff2020" stroke-width="0.8"/><path d="M121.68,209.35 l2.31,3.96 h-4.62 Z" fill="none" stroke="#ff2020" stroke-width="0.8"/><path d="M124.96,209.35 l2.31,3.96 h-4.62 Z" fill="none" stroke="#ff2020" stroke-width="0.8"/><path d="M128.24,209.56 l2.31,3.96 h-4.62 Z" fill="none" stroke="#ff2020" stroke-width="0.8"/><path d="M131.52,209.76 l2.31,3.96 h-4.62 Z" fill="none" stroke="#ff2020" stroke-width="0.8"/><path d="M134.8,209.76 l2.31,3.96 h-4.62 Z" fill="none" stroke="#ff2020" stroke-width="0.8"/><path d="M138.08,191.72 l2.31,3.96 h-4.62 Z" fill="none" stroke="#ff2020" stroke-width="0.8"/><path d="M141.36,191.93 l2.31,3.96 h-4.62 Z" fill="none" stroke="#ff2020" stroke-width="0.8"/><path d="M144.64,192.13 l2.31,3.96 h-4.62 Z" fill="none" stroke="#ff2020" stroke-width="0.8"/><path d="M147.92,192.34 l2.31,3.96 h-4.62 Z" fill="none" stroke="#ff2020" stroke-width="0.8"/><path d="M151.2,192.54 l2.31,3.96 h-4.62 Z" fill="none" stroke="#ff2020" stroke-width="0.8"/><path d="M39.68,227.69 l2.31,-3.96 h-4.62 Z" fill="none" stroke="#222" stroke-width="0.8"/><path d="M42.96,228.51 l2.31,-3.96 h-4.62 Z" fill="none" stroke="#222" stroke-width="0.8"/><path d="M46.24,229.33 l2.31,-3.96 h-4.62 Z" fill="none" stroke="#222" stroke-width="0.8"/><path d="M49.52,230.15 l2.31,-3.96 h-4.62 Z" fill="none" stroke="#222" stroke-width="0.8"/><path d="M52.8,230.97 l2.31,-3.96 h-4.62 Z" fill="none" stroke="#222" stroke-width="0.8"/><path d="M56.08,260.49 l2.31,-3.96 h-4.62 Z" fill="none" stroke="#222" stroke-width="0.8"/><path d="M59.36,260.9 l2.31,-3.96 h-4.62 Z" fill="none" stroke="#222" stroke-width="0.8"/><path d="M62.64,261.31 l2.31,-3.96 h-4.62 Z" fill="none" stroke="#222" stroke-width="0.8"/><path d="M65.92,261.72 l2.31,-3.96 h-4.62 Z" fill="none" stroke="#222" stroke-width="0.8"/><path d="M69.2,261.72 l2.31,-3.96 h-4.62 Z" fill="none" stroke="#222" stroke-width="0.8"/><path d="M72.48,265.82 l2.31,-3.96 h-4.62 Z" fill="none" stroke="#222" stroke-width="0.8"/><path d="M75.76,266.23 l2.31,-3.96 h-4.62 Z" fill="none" stroke="#222" stroke-width="0.8"/><path d="M79.04,266.64 l2.31,-3.96 h-4.62 Z" fill="none" stroke="#222" stroke-width="0.8"/><path d="M82.32,266.64 l2.31,-3.96 h-4.62 Z" fill="none" stroke="#222" stroke-width="0.8"/><path d="M85.6,267.05 l2.31,-3.96 h-4.62 Z" fill="none" stroke="#222" stroke-width="0.8"/><path d="M88.88,272.38 l2.31,-3.96 h-4.62 Z" fill="none" stroke="#222" stroke-width="0.8"/><path d="M92.16,273.2 l2.31,-3.96 h-4.62 Z" fill="none" stroke="#222" stroke-width="0.8"/><path d="M95.44,273.61 l2.31,-3.96 h-4.62 Z" fill="none" stroke="#222" stroke-width="0.8"/><path d="M98.72,274.02 l2.31,-3.96 h-4.62 Z" fill="none" stroke="#222" stroke-width="0.8"/><path d="M102,274.02 l2.31,-3.96 h-4.62 Z" fill="none" stroke="#222" stroke-width="0.8"/><path d="M105.28,267.05 l2.31,-3.96 h-4.62 Z" fill="none" stroke="#222" stroke-width="0.8"/><path d="M108.56,267.46 l2.31,-3.96 h-4.62 Z" fill="none" stroke="#222" stroke-width="0.8"/><path d="M111.84,267.87 l2.31,-3.96 h-4.62 Z" fill="none" stroke="#222" stroke-width="0.8"/><path d="M115.12,267.87 l2.31,-3.96 h-4.62 Z" fill="none" stroke="#222" stroke-width="0.8"/><path d="M118.4,268.28 l2.31,-3.96 h-4.62 Z" fill="none" stroke="#222" stroke-width="0.8"/><path d="M121.68,262.54 l2.31,-3.96 h-4.62 Z" fill="none" stroke="#222" stroke-width="0.8"/><path d="M124.96,263.36 l2.31,-3.96 h-4.62 Z" fill="none" stroke="#222" stroke-width="0.8"/><path d="M128.24,263.77 l2.31,-3.96 h-4.62 Z" fill="none" stroke="#222" stroke-width="0.8"/><path d="M131.52,264.18 l2.31,-3.96 h-4.62 Z" fill="none" stroke="#222" stroke-width="0.8"/><path d="M134.8,264.18 l2.31,-3.96 h-4.62 Z" fill="none" stroke="#222" stroke-width="0.8"/><path d="M138.08,231.38 l2.31,-3.96 h-4.62 Z" fill="none" stroke="#222" stroke-width="0.8"/><path d="M141.36,232.61 l2.31,-3.96 h-4.62 Z" fill="none" stroke="#222" stroke-width="0.8"/><path d="M144.64,233.43 l2.31,-3.96 h-4.62 Z" fill="none" stroke="#222" stroke-width="0.8"/><path d="M147.92,234.25 l2.31,-3.96 h-4.62 Z" fill="none" stroke="#222" stroke-width="0.8"/><path d="M151.2,235.07 l2.31,-3.96 h-4.62 Z" fill="none" stroke="#222" stroke-width="0.8"/>
<text x="34.5" y="188" font-size="6.6" text-anchor="start" font-weight="bold" fill="#ff1f1f" >0.5 Ag<tspan dy="-2.6" font-size="3.6">-1</tspan></text>
<text x="54.4" y="205.6" font-size="6.6" text-anchor="start" font-weight="bold" fill="#ff1f1f" >1 Ag<tspan dy="-2.6" font-size="3.6">-1</tspan></text>
<text x="72.6" y="211.8" font-size="6.6" text-anchor="start" font-weight="bold" fill="#ff1f1f" >2 Ag<tspan dy="-2.6" font-size="3.6">-1</tspan></text>
<text x="85.4" y="230.8" font-size="6.6" text-anchor="start" font-weight="bold" fill="#ff1f1f" >5 Ag<tspan dy="-2.6" font-size="3.6">-1</tspan></text>
<text x="101.3" y="214.2" font-size="6.6" text-anchor="start" font-weight="bold" fill="#ff1f1f" >2 Ag<tspan dy="-2.6" font-size="3.6">-1</tspan></text>
<text x="122.4" y="207.9" font-size="6.6" text-anchor="start" font-weight="bold" fill="#ff1f1f" >1 Ag<tspan dy="-2.6" font-size="3.6">-1</tspan></text>
<text x="136" y="190.9" font-size="6.6" text-anchor="start" font-weight="bold" fill="#ff1f1f" >0.5 Ag<tspan dy="-2.6" font-size="3.6">-1</tspan></text>
<path d="M85.5,181.2 l2.42,4.14 h-4.83 Z" fill="none" stroke="#ff2020" stroke-width="0.8"/>
<path d="M85.5,192.3 l2.42,-4.14 h-4.83 Z" fill="none" stroke="#222" stroke-width="0.8"/>
<text x="92.7" y="185.2" font-size="5.1" text-anchor="start" font-weight="bold" fill="#222" >CoMnAl</text>
<text x="92.7" y="191.6" font-size="5.1" text-anchor="start" font-weight="bold" fill="#222" >CoMn</text>
<text transform="translate(12.4,235.4) rotate(-90)" x="0" y="0" font-size="7.5" text-anchor="middle" dominant-baseline="central" font-weight="bold" fill="#000">Capacity (mAh g<tspan dy="-2.6" font-size="3.9">-1</tspan><tspan dy="2.6">)</tspan></text>
<text x="97.9" y="308.8" font-size="7.6" text-anchor="middle" font-weight="bold" fill="#000" >Cycle number</text>
<text x="186.2" y="171.4" font-size="11.8" text-anchor="start" font-weight="bold" fill="#000" >E</text>
<rect x="215.3" y="178.9" width="139.2" height="112.3" fill="none" stroke="#8c8c8c" stroke-width="1.05"/>
<path d="M215.2,291.2 v-1.6 M230.62,291.2 v-1.6 M246.04,291.2 v-1.6 M261.46,291.2 v-1.6 M276.88,291.2 v-1.6 M292.3,291.2 v-1.6 M307.72,291.2 v-1.6 M323.14,291.2 v-1.6 M338.56,291.2 v-1.6 M353.98,291.2 v-1.6 M222.91,291.2 v-0.96 M238.33,291.2 v-0.96 M253.75,291.2 v-0.96 M269.17,291.2 v-0.96 M284.59,291.2 v-0.96 M300.01,291.2 v-0.96 M315.43,291.2 v-0.96 M330.85,291.2 v-0.96 M346.27,291.2 v-0.96 M215.3,291 h1.6 M215.3,270.7 h1.6 M215.3,250.4 h1.6 M215.3,230.1 h1.6 M215.3,209.8 h1.6 M215.3,189.5 h1.6 M215.3,280.85 h0.96 M215.3,260.55 h0.96 M215.3,240.25 h0.96 M215.3,219.95 h0.96 M215.3,199.65 h0.96" stroke="#8c8c8c" stroke-width="0.84" fill="none"/>
<text x="215.2" y="299" font-size="4.8" text-anchor="middle" font-weight="bold" fill="#222" >0.4</text>
<text x="230.62" y="299" font-size="4.8" text-anchor="middle" font-weight="bold" fill="#222" >0.6</text>
<text x="246.04" y="299" font-size="4.8" text-anchor="middle" font-weight="bold" fill="#222" >0.8</text>
<text x="261.46" y="299" font-size="4.8" text-anchor="middle" font-weight="bold" fill="#222" >1.0</text>
<text x="276.88" y="299" font-size="4.8" text-anchor="middle" font-weight="bold" fill="#222" >1.2</text>
<text x="292.3" y="299" font-size="4.8" text-anchor="middle" font-weight="bold" fill="#222" >1.4</text>
<text x="307.72" y="299" font-size="4.8" text-anchor="middle" font-weight="bold" fill="#222" >1.6</text>
<text x="323.14" y="299" font-size="4.8" text-anchor="middle" font-weight="bold" fill="#222" >1.8</text>
<text x="338.56" y="299" font-size="4.8" text-anchor="middle" font-weight="bold" fill="#222" >2.0</text>
<text x="353.98" y="299" font-size="4.8" text-anchor="middle" font-weight="bold" fill="#222" >2.2</text>
<text x="212.9" y="292.73" font-size="4.8" text-anchor="end" font-weight="bold" fill="#222" >-0.0010</text>
<text x="212.9" y="272.43" font-size="4.8" text-anchor="end" font-weight="bold" fill="#222" >-0.0005</text>
<text x="212.9" y="252.13" font-size="4.8" text-anchor="end" font-weight="bold" fill="#222" >0.0000</text>
<text x="212.9" y="231.83" font-size="4.8" text-anchor="end" font-weight="bold" fill="#222" >0.0005</text>
<text x="212.9" y="211.53" font-size="4.8" text-anchor="end" font-weight="bold" fill="#222" >0.0010</text>
<text x="212.9" y="191.23" font-size="4.8" text-anchor="end" font-weight="bold" fill="#222" >0.0015</text>
<path d="M230.5,254 C232,253.75 234.97,252.88 239.5,252.5 C244.03,252.12 250.12,252 257.7,251.7 C265.28,251.4 278.4,251.15 285,250.7 C291.6,250.25 294.55,249.72 297.3,249 C300.05,248.28 300.28,247.75 301.5,246.4 C302.72,245.05 303.72,243.8 304.6,240.9 C305.48,238 306,234.48 306.8,229 C307.6,223.52 308.55,213.62 309.4,208 C310.25,202.38 311.13,197.93 311.9,195.3 C312.67,192.67 313.27,192.2 314,192.2 C314.73,192.2 315.37,192.23 316.3,195.3 C317.23,198.37 318.42,206.02 319.6,210.6 C320.78,215.18 322.13,220.17 323.4,222.8 C324.67,225.43 325.72,225.98 327.2,226.4 C328.68,226.82 330.38,226.23 332.3,225.3 C334.22,224.37 336.92,222.2 338.7,220.8 C340.48,219.4 342.37,216.48 343,216.9 C343.63,217.32 342.88,220.12 342.5,223.3 C342.12,226.48 341.37,231.55 340.7,236 C340.03,240.45 339.22,246.17 338.5,250 C337.78,253.83 337.43,255.52 336.4,259 C335.37,262.48 333.73,268.47 332.3,270.9 C330.87,273.33 329.4,273.6 327.8,273.6 C326.2,273.6 324.45,271.8 322.7,270.9 C320.95,270 319.42,268.8 317.3,268.2 C315.18,267.6 312.28,266.7 310,267.3 C307.72,267.9 305.42,269.68 303.6,271.8 C301.78,273.92 300.4,278.03 299.1,280 C297.8,281.97 296.87,284.27 295.8,283.6 C294.73,282.93 293.97,279.1 292.7,276 C291.43,272.9 290.17,267.75 288.2,265 C286.23,262.25 283.93,260.78 280.9,259.5 C277.87,258.22 273.98,257.3 270,257.3 C266.02,257.3 261,258.53 257,259.5 C253,260.47 249.17,262.85 246,263.1 C242.83,263.35 240.58,262.52 238,261 C235.42,259.48 231.75,255.17 230.5,254" stroke="#444" stroke-width="1.2" fill="none" stroke-linejoin="round" />
<path d="M230.5,254.3 C232,253.98 234.97,252.85 239.5,252.4 C244.03,251.95 250.12,251.9 257.7,251.6 C265.28,251.3 278.4,250.87 285,250.6 C291.6,250.33 293.73,250.55 297.3,250 C300.87,249.45 303.98,248.82 306.4,247.3 C308.82,245.78 310.28,243.18 311.8,240.9 C313.32,238.62 314.42,235.58 315.5,233.6 C316.58,231.62 317.4,230.5 318.3,229 C319.2,227.5 320.05,225.88 320.9,224.6 C321.75,223.32 322.35,221.52 323.4,221.3 C324.45,221.08 325.72,222.88 327.2,223.3 C328.68,223.72 330.38,223.88 332.3,223.8 C334.22,223.72 337.85,221.6 338.7,222.8 C339.55,224 337.92,227.52 337.4,231 C336.88,234.48 336.23,240.53 335.6,243.7 C334.97,246.87 334.53,247.45 333.6,250 C332.67,252.55 331.2,256.27 330,259 C328.8,261.73 327.62,264.82 326.4,266.4 C325.18,267.98 324.22,268.2 322.7,268.5 C321.18,268.8 319.72,268.55 317.3,268.2 C314.88,267.85 311.23,267.32 308.2,266.4 C305.17,265.48 302.43,264.22 299.1,262.7 C295.77,261.18 292.67,258.65 288.2,257.3 C283.73,255.95 277.38,254.52 272.3,254.6 C267.22,254.68 261.95,256.9 257.7,257.8 C253.45,258.7 249.83,260.08 246.8,260 C243.77,259.92 242.22,258.25 239.5,257.3 C236.78,256.35 232,254.8 230.5,254.3" stroke="#ff2a2a" stroke-width="1.2" fill="none" stroke-linejoin="round" />
<path d="M256.9,234.5 H271.2 V232.3 L276.6,237.4 L271.2,242.6 V240.2 H256.9 Z" fill="url(#ag)" stroke="#7a5600" stroke-width="0.5" stroke-linejoin="round"/>
<path d="M276.6,267.9 H262.8 V265.4 L256.9,270.6 L262.8,276 V273.2 H276.6 Z" fill="url(#ag)" stroke="#7a5600" stroke-width="0.5" stroke-linejoin="round"/>
<path d="M222.3,188.7 H234.5" stroke="#555" stroke-width="1"/><path d="M222.3,196.1 H234.5" stroke="#ff2a2a" stroke-width="1"/>
<text x="236.6" y="190.6" font-size="6" text-anchor="start" font-weight="bold" fill="#222" >CoMnAl</text>
<text x="236.6" y="198" font-size="6" text-anchor="start" font-weight="bold" fill="#222" >CoMn</text>
<text transform="translate(191.6,234.6) rotate(-90)" x="0" y="0" font-size="7.6" text-anchor="middle" dominant-baseline="central" font-weight="bold" fill="#000">Current (A)</text>
<text x="284.7" y="308.3" font-size="7.3" text-anchor="middle" font-weight="bold" fill="#000" >Potential (V)</text>
<text x="369.6" y="171.4" font-size="11.8" text-anchor="start" font-weight="bold" fill="#000" >F</text>
<rect x="398.1" y="178.9" width="140.5" height="113.5" fill="none" stroke="#8c8c8c" stroke-width="1.05"/>
<path d="M398.2,292.4 v-1.6 M421.65,292.4 v-1.6 M445.1,292.4 v-1.6 M468.55,292.4 v-1.6 M492,292.4 v-1.6 M515.45,292.4 v-1.6 M538.9,292.4 v-1.6 M409.93,292.4 v-0.96 M433.38,292.4 v-0.96 M456.82,292.4 v-0.96 M480.27,292.4 v-0.96 M503.73,292.4 v-0.96 M527.17,292.4 v-0.96 M398.1,292.4 h1.6 M398.1,273.48 h1.6 M398.1,254.57 h1.6 M398.1,235.65 h1.6 M398.1,216.74 h1.6 M398.1,197.82 h1.6 M398.1,178.91 h1.6 M398.1,282.94 h0.96 M398.1,264.03 h0.96 M398.1,245.11 h0.96 M398.1,226.2 h0.96 M398.1,207.28 h0.96 M398.1,188.37 h0.96" stroke="#8c8c8c" stroke-width="0.84" fill="none"/>
<text x="398.2" y="299" font-size="4.8" text-anchor="middle" font-weight="bold" fill="#222" >0</text>
<text x="421.65" y="299" font-size="4.8" text-anchor="middle" font-weight="bold" fill="#222" >5</text>
<text x="445.1" y="299" font-size="4.8" text-anchor="middle" font-weight="bold" fill="#222" >10</text>
<text x="468.55" y="299" font-size="4.8" text-anchor="middle" font-weight="bold" fill="#222" >15</text>
<text x="492" y="299" font-size="4.8" text-anchor="middle" font-weight="bold" fill="#222" >20</text>
<text x="515.45" y="299" font-size="4.8" text-anchor="middle" font-weight="bold" fill="#222" >25</text>
<text x="538.9" y="299" font-size="4.8" text-anchor="middle" font-weight="bold" fill="#222" >30</text>
<text x="395.7" y="294.13" font-size="4.8" text-anchor="end" font-weight="bold" fill="#222" >0</text>
<text x="395.7" y="275.21" font-size="4.8" text-anchor="end" font-weight="bold" fill="#222" >5</text>
<text x="395.7" y="256.3" font-size="4.8" text-anchor="end" font-weight="bold" fill="#222" >10</text>
<text x="395.7" y="237.38" font-size="4.8" text-anchor="end" font-weight="bold" fill="#222" >15</text>
<text x="395.7" y="218.47" font-size="4.8" text-anchor="end" font-weight="bold" fill="#222" >20</text>
<text x="395.7" y="199.55" font-size="4.8" text-anchor="end" font-weight="bold" fill="#222" >25</text>
<text x="395.7" y="180.64" font-size="4.8" text-anchor="end" font-weight="bold" fill="#222" >30</text>
<path d="M412.7,291.8 C413.62,291.25 416.53,289.2 418.2,288.5 C419.87,287.8 420.88,287.6 422.7,287.6 C424.52,287.6 426.82,288.25 429.1,288.5 C431.38,288.75 434.58,289.15 436.4,289.1 C438.22,289.05 438.8,289.27 440,288.2 C441.2,287.13 442.38,284.82 443.6,282.7 C444.82,280.58 446.08,278.22 447.3,275.5 C448.52,272.78 449.7,270.05 450.9,266.4 C452.1,262.75 453.28,257.83 454.5,253.6 C455.72,249.37 456.98,244.93 458.2,241 C459.42,237.07 459.83,236.17 461.8,230 C463.77,223.83 466.97,212.53 470,204 C473.03,195.47 478.33,183 480,178.8" stroke="#333" stroke-width="1.1" fill="none" stroke-linejoin="round" />
<path d="M411.8,290.9 C412.87,290.38 415.62,288.65 418.2,287.8 C420.78,286.95 424.58,286.03 427.3,285.8 C430.02,285.57 432.38,286 434.5,286.4 C436.62,286.8 438.17,287.53 440,288.2 C441.83,288.87 443.98,290.13 445.5,290.4 C447.02,290.67 447.6,290.32 449.1,289.8 C450.6,289.28 452.98,288.68 454.5,287.3 C456.02,285.92 457.13,284.98 458.2,281.5 C459.27,278.02 459.53,271.95 460.9,266.4 C462.27,260.85 464.63,254.27 466.4,248.2 C468.17,242.13 469.73,237.2 471.5,230 C473.27,222.8 475.13,213.53 477,205 C478.87,196.47 481.75,183.17 482.7,178.8" stroke="#ff2a2a" stroke-width="1.1" fill="none" stroke-linejoin="round" />
<path d="M492.2,189.6 H504.5" stroke="#555" stroke-width="1"/><path d="M492.2,197.3 H504.5" stroke="#ff2a2a" stroke-width="1"/>
<text x="506.7" y="191.5" font-size="6" text-anchor="start" font-weight="bold" fill="#222" >CoMnAl</text>
<text x="506.7" y="199.2" font-size="6" text-anchor="start" font-weight="bold" fill="#222" >CoMn</text>
<g stroke="#2a2a2a" stroke-width="0.7" fill="none"><path d="M473.6,268.5 H479.5 M487.8,268.5 H496.4 M504.5,268.5 H512.7 M517.6,268.5 H527.3"/><rect x="479.5" y="266.7" width="8.3" height="3.6" rx="0.8" fill="#fff"/><rect x="496.4" y="266.7" width="8.1" height="3.6" rx="0.8" fill="#fff"/><path d="M512.7,268.5 q1.2,-1.2 2.4,0 q1.2,1.2 2.5,0"/><path d="M492.2,268.5 V277.6 H505.9 M507.5,277.6 H520.9 V268.5 M505.9,275.9 V279.3 M507.5,275.9 V279.3"/></g>
<text x="483.6" y="264" font-size="3.2" text-anchor="middle" font-weight="normal" fill="#222" >R<tspan font-size="1.8" dy="0.6">s</tspan></text>
<text x="500.9" y="264" font-size="3.2" text-anchor="middle" font-weight="normal" fill="#222" >R<tspan font-size="1.8" dy="0.6">ct</tspan></text>
<text x="514.9" y="263.4" font-size="3" text-anchor="middle" font-weight="normal" fill="#222" >W</text>
<text x="505.9" y="284.6" font-size="2.8" text-anchor="middle" font-weight="normal" fill="#222" >CPE</text>
<text transform="translate(384.9,235.7) rotate(-90)" x="0" y="0" font-size="7.3" text-anchor="middle" dominant-baseline="central" font-weight="bold" fill="#000">Z'' (ohm)</text>
<text x="468.4" y="309.9" font-size="7.4" text-anchor="middle" font-weight="bold" fill="#000" >Z' (ohm)</text>
<text x="5.4" y="328.4" font-size="11.8" text-anchor="start" font-weight="bold" fill="#000" >G</text>
<rect x="27.8" y="333.2" width="139.6" height="112.1" fill="none" stroke="#8c8c8c" stroke-width="1.05"/>
<path d="M27.8,445.3 v-1.6 M51.05,445.3 v-1.6 M74.3,445.3 v-1.6 M97.55,445.3 v-1.6 M120.8,445.3 v-1.6 M144.05,445.3 v-1.6 M167.3,445.3 v-1.6 M39.43,445.3 v-0.96 M62.68,445.3 v-0.96 M85.93,445.3 v-0.96 M109.18,445.3 v-0.96 M132.43,445.3 v-0.96 M155.68,445.3 v-0.96 M27.8,445.3 h1.6 M27.8,422.88 h1.6 M27.8,400.46 h1.6 M27.8,378.04 h1.6 M27.8,355.62 h1.6 M27.8,333.2 h1.6 M27.8,434.09 h0.96 M27.8,411.67 h0.96 M27.8,389.25 h0.96 M27.8,366.83 h0.96 M27.8,344.41 h0.96" stroke="#8c8c8c" stroke-width="0.84" fill="none"/>
<text x="27.8" y="452.9" font-size="4.8" text-anchor="middle" font-weight="bold" fill="#222" >2.8</text>
<text x="51.05" y="452.9" font-size="4.8" text-anchor="middle" font-weight="bold" fill="#222" >2.9</text>
<text x="74.3" y="452.9" font-size="4.8" text-anchor="middle" font-weight="bold" fill="#222" >3.0</text>
<text x="97.55" y="452.9" font-size="4.8" text-anchor="middle" font-weight="bold" fill="#222" >3.1</text>
<text x="120.8" y="452.9" font-size="4.8" text-anchor="middle" font-weight="bold" fill="#222" >3.2</text>
<text x="144.05" y="452.9" font-size="4.8" text-anchor="middle" font-weight="bold" fill="#222" >3.3</text>
<text x="167.3" y="452.9" font-size="4.8" text-anchor="middle" font-weight="bold" fill="#222" >3.4</text>
<text x="25.4" y="447.03" font-size="4.8" text-anchor="end" font-weight="bold" fill="#222" >4.2</text>
<text x="25.4" y="424.61" font-size="4.8" text-anchor="end" font-weight="bold" fill="#222" >4.4</text>
<text x="25.4" y="402.19" font-size="4.8" text-anchor="end" font-weight="bold" fill="#222" >4.6</text>
<text x="25.4" y="379.77" font-size="4.8" text-anchor="end" font-weight="bold" fill="#222" >4.8</text>
<text x="25.4" y="357.35" font-size="4.8" text-anchor="end" font-weight="bold" fill="#222" >5.0</text>
<text x="25.4" y="334.93" font-size="4.8" text-anchor="end" font-weight="bold" fill="#222" >5.2</text>
<path d="M45.5,415.5 L81.2,391.1 M81.2,391.1 h26.4 v12.5 h-26.4 Z" fill="none" stroke="#c4c4c4" stroke-width="0.55"/><path d="M45.9,428.3 L62.9,426 L66.2,421.2" fill="none" stroke="#ff7070" stroke-width="0.55" stroke-linejoin="round"/><path d="M45.9,428.3 L56.8,420.8 L66.2,420.8 L69.5,417.4 L72.4,415.6" fill="none" stroke="#ff8080" stroke-width="0.55" stroke-linejoin="round"/><path d="M56.8,420.8 L63.8,415.5 L72.4,415.5 L75.2,412.4 L79,409.5" fill="none" stroke="#ffb080" stroke-width="0.55" stroke-linejoin="round"/><path d="M63.8,415.5 L72.5,409.8 L80.4,404.7" fill="none" stroke="#ffd890" stroke-width="0.55" stroke-linejoin="round"/><path d="M80.4,404.7 L83.7,404.2 L87.5,405.2 L89.4,405.6 L90.8,403.2 L91.7,399.5 L93.1,396.6" fill="none" stroke="#38bfdc" stroke-width="0.75" stroke-linejoin="round"/><path d="M45.5,415.5 V428.3 H73.5 L109.2,403.9" fill="none" stroke="#111" stroke-width="1.2"/><path d="M54.83,428.3 v-0.9 M64.17,428.3 v-0.9 M73.5,428.3 v-0.9 M45.5,421.9 h0.9 M45.5,415.5 h0.9" stroke="#111" stroke-width="0.5"/>
<text x="43.9" y="419.1" font-size="5" text-anchor="end" font-weight="bold" fill="#111" >3.0</text>
<text x="43.9" y="424.3" font-size="5" text-anchor="end" font-weight="bold" fill="#111" >1.5</text>
<text x="43.9" y="430.4" font-size="5" text-anchor="end" font-weight="bold" fill="#111" >0.0</text>
<text x="45.5" y="435.4" font-size="5" text-anchor="middle" font-weight="bold" fill="#111" >0</text>
<text x="54.6" y="435.4" font-size="5" text-anchor="middle" font-weight="bold" fill="#111" >1</text>
<text x="63.8" y="435.4" font-size="5" text-anchor="middle" font-weight="bold" fill="#111" >2</text>
<text x="73.1" y="435.4" font-size="5" text-anchor="middle" font-weight="bold" fill="#111" >3</text>
<text x="60.1" y="441.1" font-size="3.1" text-anchor="middle" font-weight="bold" fill="#222" >Z' (Ohm)</text>
<text x="75" y="431.9" font-size="5" text-anchor="start" font-weight="bold" fill="#111" >20</text>
<text x="82.3" y="426.1" font-size="5" text-anchor="start" font-weight="bold" fill="#111" >25</text>
<text x="92.5" y="420.5" font-size="5" text-anchor="start" font-weight="bold" fill="#111" >30</text>
<text x="99.7" y="414.7" font-size="5" text-anchor="start" font-weight="bold" fill="#111" >35</text>
<text x="107.7" y="409.3" font-size="5" text-anchor="start" font-weight="bold" fill="#111" >40</text>
<text transform="translate(99.95,424.45) rotate(-34.98)" font-size="3.0" font-weight="bold" text-anchor="middle" fill="#222">Temperature (Degree)</text>
<text transform="translate(35.3,420.5) rotate(-90)" font-size="2.6" font-weight="bold" text-anchor="middle" fill="#222">Z" (Ohm)</text>
<path d="M51.8,341.8 L143.1,407.3" stroke="#ff2a2a" stroke-width="1.1"/>
<circle cx="51.05" cy="342.17" r="2.3" fill="#ff1a1a"/><circle cx="71.98" cy="360.1" r="2.3" fill="#ff1a1a"/><circle cx="97.55" cy="370.19" r="2.3" fill="#ff1a1a"/><circle cx="120.8" cy="390.37" r="2.3" fill="#ff1a1a"/><circle cx="144.05" cy="406.63" r="2.3" fill="#ff1a1a"/>
<text transform="translate(14.6,390.4) rotate(-90)" x="0" y="0" font-size="5.9" text-anchor="middle" dominant-baseline="central" font-weight="bold" fill="#000">Ln (T R<tspan dy="-2.1" font-size="3.6">-1</tspan><tspan dy="2.1">) (K Ω</tspan><tspan dy="-2.1" font-size="3.6">-1</tspan><tspan dy="2.1">)</tspan></text>
<text x="98" y="462.4" font-size="6.1" text-anchor="middle" font-weight="bold" fill="#000" >1000 T<tspan dy="-2.2" font-size="3.8">-1</tspan><tspan dy="2.2">(K</tspan><tspan dy="-2.2" font-size="3.8">-1</tspan><tspan dy="2.2">)</tspan></text>
<text x="185" y="328.6" font-size="11.8" text-anchor="start" font-weight="bold" fill="#000" >H</text>
<rect x="215.9" y="332.4" width="141.7" height="114.5" fill="none" stroke="#8c8c8c" stroke-width="1.05"/>
<path d="M215.9,446.9 v-1.6 M239.55,446.9 v-1.6 M263.2,446.9 v-1.6 M286.85,446.9 v-1.6 M310.5,446.9 v-1.6 M334.15,446.9 v-1.6 M357.8,446.9 v-1.6 M227.73,446.9 v-0.96 M251.38,446.9 v-0.96 M275.03,446.9 v-0.96 M298.68,446.9 v-0.96 M322.33,446.9 v-0.96 M345.98,446.9 v-0.96 M215.9,446.9 h1.6 M215.9,418.28 h1.6 M215.9,389.66 h1.6 M215.9,361.04 h1.6 M215.9,332.42 h1.6 M215.9,432.59 h0.96 M215.9,403.97 h0.96 M215.9,375.35 h0.96 M215.9,346.73 h0.96" stroke="#8c8c8c" stroke-width="0.84" fill="none"/>
<text x="215.9" y="453.5" font-size="4.8" text-anchor="middle" font-weight="bold" fill="#222" >2.8</text>
<text x="239.55" y="453.5" font-size="4.8" text-anchor="middle" font-weight="bold" fill="#222" >2.9</text>
<text x="263.2" y="453.5" font-size="4.8" text-anchor="middle" font-weight="bold" fill="#222" >3.0</text>
<text x="286.85" y="453.5" font-size="4.8" text-anchor="middle" font-weight="bold" fill="#222" >3.1</text>
<text x="310.5" y="453.5" font-size="4.8" text-anchor="middle" font-weight="bold" fill="#222" >3.2</text>
<text x="334.15" y="453.5" font-size="4.8" text-anchor="middle" font-weight="bold" fill="#222" >3.3</text>
<text x="357.8" y="453.5" font-size="4.8" text-anchor="middle" font-weight="bold" fill="#222" >3.</text>
<text x="213.5" y="448.63" font-size="4.8" text-anchor="end" font-weight="bold" fill="#222" >4.2</text>
<text x="213.5" y="420.01" font-size="4.8" text-anchor="end" font-weight="bold" fill="#222" >4.4</text>
<text x="213.5" y="391.39" font-size="4.8" text-anchor="end" font-weight="bold" fill="#222" >4.6</text>
<text x="213.5" y="362.77" font-size="4.8" text-anchor="end" font-weight="bold" fill="#222" >4.8</text>
<text x="213.5" y="334.15" font-size="4.8" text-anchor="end" font-weight="bold" fill="#222" >5.0</text>
<path d="M236.4,412.9 L270.5,390.1 M270.5,390.1 h23.5 v11.8 h-23.5 Z" fill="none" stroke="#c4c4c4" stroke-width="0.55"/><path d="M236.77,425 L252.58,422.86 L255.65,418.4" fill="none" stroke="#ff7070" stroke-width="0.55" stroke-linejoin="round"/><path d="M236.77,425 L246.91,418.02 L255.65,418.02 L258.72,414.86 L261.42,413.19" fill="none" stroke="#ff8080" stroke-width="0.55" stroke-linejoin="round"/><path d="M246.91,418.02 L253.42,413.1 L261.42,413.1 L264.02,410.21 L267.56,407.52" fill="none" stroke="#ffb080" stroke-width="0.55" stroke-linejoin="round"/><path d="M253.42,413.1 L261.51,407.8 L268.86,403.05" fill="none" stroke="#ffd890" stroke-width="0.55" stroke-linejoin="round"/><path d="M268.86,403.05 L271.93,402.59 L275.46,403.52 L277.23,403.89 L278.53,401.66 L279.37,398.22 L280.67,395.52" fill="none" stroke="#38bfdc" stroke-width="0.75" stroke-linejoin="round"/><path d="M236.4,412.9 V425 H261.5 L295.6,402.2" fill="none" stroke="#111" stroke-width="1.2"/><path d="M244.77,425 v-0.9 M253.13,425 v-0.9 M261.5,425 v-0.9 M236.4,418.95 h0.9 M236.4,412.9 h0.9" stroke="#111" stroke-width="0.5"/>
<text x="235" y="416" font-size="6.1" text-anchor="end" font-weight="bold" fill="#111" >3.0</text>
<text x="235" y="422.1" font-size="6.1" text-anchor="end" font-weight="bold" fill="#111" >1.5</text>
<text x="235" y="427.2" font-size="6.1" text-anchor="end" font-weight="bold" fill="#111" >0.0</text>
<text x="236.4" y="433.1" font-size="6.1" text-anchor="middle" font-weight="bold" fill="#111" >0</text>
<text x="245.1" y="433.1" font-size="6.1" text-anchor="middle" font-weight="bold" fill="#111" >1</text>
<text x="253.1" y="433.1" font-size="6.1" text-anchor="middle" font-weight="bold" fill="#111" >2</text>
<text x="261.8" y="433.1" font-size="6.1" text-anchor="middle" font-weight="bold" fill="#111" >3</text>
<text x="248" y="437.7" font-size="3.1" text-anchor="middle" font-weight="bold" fill="#222" >Z' (Ohm)</text>
<text x="264.7" y="428.7" font-size="6.1" text-anchor="start" font-weight="bold" fill="#111" >20</text>
<text x="272" y="422.8" font-size="6.1" text-anchor="start" font-weight="bold" fill="#111" >25</text>
<text x="280" y="417.7" font-size="6.1" text-anchor="start" font-weight="bold" fill="#111" >30</text>
<text x="288" y="412.7" font-size="6.1" text-anchor="start" font-weight="bold" fill="#111" >35</text>
<text x="295.3" y="407.6" font-size="6.1" text-anchor="start" font-weight="bold" fill="#111" >40</text>
<text transform="translate(288.95,421.55) rotate(-36.66)" font-size="3.0" font-weight="bold" text-anchor="middle" fill="#222">Temperature (Degree)</text>
<text transform="translate(221.1,417) rotate(-90)" font-size="2.6" font-weight="bold" text-anchor="middle" fill="#222">Z" (Ohm)</text>
<path d="M240,346.8 L335.5,398.7" stroke="#222" stroke-width="1.0"/>
<circle cx="240" cy="347.3" r="2.3" fill="#111"/><circle cx="263.6" cy="357.6" r="2.3" fill="#111"/><circle cx="286.4" cy="374.5" r="2.3" fill="#111"/><circle cx="312.7" cy="382.4" r="2.3" fill="#111"/><circle cx="335.5" cy="398.7" r="2.3" fill="#111"/>
<text transform="translate(204.6,388) rotate(-90)" x="0" y="0" font-size="5.9" text-anchor="middle" dominant-baseline="central" font-weight="bold" fill="#000">Ln (T R<tspan dy="-2.1" font-size="3.6">-1</tspan><tspan dy="2.1">) (K Ω</tspan><tspan dy="-2.1" font-size="3.6">-1</tspan><tspan dy="2.1">)</tspan></text>
<text x="287.1" y="463.6" font-size="6.1" text-anchor="middle" font-weight="bold" fill="#000" >1000 T<tspan dy="-2.2" font-size="3.8">-1</tspan><tspan dy="2.2">(K</tspan><tspan dy="-2.2" font-size="3.8">-1</tspan><tspan dy="2.2">)</tspan></text>
<text x="368.5" y="328.6" font-size="11.8" text-anchor="start" font-weight="bold" fill="#000" >I</text>
<rect x="395.3" y="331.9" width="143.2" height="115.6" fill="none" stroke="#8c8c8c" stroke-width="1.05"/>
<path d="M395.3,447.5 v-1.6 M431,447.5 v-1.6 M466.7,447.5 v-1.6 M502.4,447.5 v-1.6 M538.1,447.5 v-1.6 M413.15,447.5 v-0.96 M448.85,447.5 v-0.96 M484.55,447.5 v-0.96 M520.25,447.5 v-0.96 M395.3,447.5 h1.6 M395.3,425.14 h1.6 M395.3,402.78 h1.6 M395.3,380.42 h1.6 M395.3,358.06 h1.6 M395.3,335.7 h1.6 M395.3,436.32 h0.96 M395.3,413.96 h0.96 M395.3,391.6 h0.96 M395.3,369.24 h0.96 M395.3,346.88 h0.96" stroke="#8c8c8c" stroke-width="0.84" fill="none"/>
<text x="395.3" y="454.1" font-size="4.8" text-anchor="middle" font-weight="bold" fill="#222" >0</text>
<text x="431" y="454.1" font-size="4.8" text-anchor="middle" font-weight="bold" fill="#222" >500</text>
<text x="466.7" y="454.1" font-size="4.8" text-anchor="middle" font-weight="bold" fill="#222" >1000</text>
<text x="502.4" y="454.1" font-size="4.8" text-anchor="middle" font-weight="bold" fill="#222" >1500</text>
<text x="538.1" y="454.1" font-size="4.8" text-anchor="middle" font-weight="bold" fill="#222" >2000</text>
<text x="392.9" y="449.23" font-size="4.8" text-anchor="end" font-weight="bold" fill="#222" >0</text>
<text x="392.9" y="426.87" font-size="4.8" text-anchor="end" font-weight="bold" fill="#222" >20</text>
<text x="392.9" y="404.51" font-size="4.8" text-anchor="end" font-weight="bold" fill="#222" >40</text>
<text x="392.9" y="382.15" font-size="4.8" text-anchor="end" font-weight="bold" fill="#222" >60</text>
<text x="392.9" y="359.79" font-size="4.8" text-anchor="end" font-weight="bold" fill="#222" >80</text>
<text x="392.9" y="337.43" font-size="4.8" text-anchor="end" font-weight="bold" fill="#222" >100</text>
<path d="M395.6,334.6 C396.33,334.87 397.93,335.75 400,336.2 C402.07,336.65 405.33,337.17 408,337.3 C410.67,337.43 413.33,336.87 416,337 C418.67,337.13 420.67,337.78 424,338.1 C427.33,338.42 431.67,338.68 436,338.9 C440.33,339.12 444.33,339.17 450,339.4 C455.67,339.63 463.93,339.98 470,340.3 C476.07,340.62 480.65,340.9 486.4,341.3 C492.15,341.7 498.9,342.33 504.5,342.7 C510.1,343.07 514.33,343.28 520,343.5 C525.67,343.72 535.42,343.92 538.5,344" stroke="#4e4e4e" stroke-width="4" fill="none" stroke-linejoin="round" />
<path d="M395.6,334.6 C396.33,334.87 397.93,335.75 400,336.2 C402.07,336.65 405.33,337.17 408,337.3 C410.67,337.43 413.33,336.87 416,337 C418.67,337.13 420.67,337.78 424,338.1 C427.33,338.42 431.67,338.68 436,338.9 C440.33,339.12 444.33,339.17 450,339.4 C455.67,339.63 463.93,339.98 470,340.3 C476.07,340.62 480.65,340.9 486.4,341.3 C492.15,341.7 498.9,342.33 504.5,342.7 C510.1,343.07 514.33,343.28 520,343.5 C525.67,343.72 535.42,343.92 538.5,344" stroke="#808080" stroke-width="0.9" fill="none" stroke-linejoin="round" />
<circle cx="395.6" cy="334.8" r="1.5" fill="none" stroke="#ff2a2a" stroke-width="0.95"/><circle cx="396.99" cy="336.5" r="1.5" fill="none" stroke="#ff2a2a" stroke-width="0.95"/><circle cx="398.38" cy="338.21" r="1.5" fill="none" stroke="#ff2a2a" stroke-width="0.95"/><circle cx="399.77" cy="339.91" r="1.5" fill="none" stroke="#ff2a2a" stroke-width="0.95"/><circle cx="401.39" cy="341.38" r="1.5" fill="none" stroke="#ff2a2a" stroke-width="0.95"/><circle cx="403.07" cy="342.81" r="1.5" fill="none" stroke="#ff2a2a" stroke-width="0.95"/><circle cx="404.39" cy="344.49" r="1.5" fill="none" stroke="#ff2a2a" stroke-width="0.95"/><circle cx="405.27" cy="346.5" r="1.5" fill="none" stroke="#ff2a2a" stroke-width="0.95"/><circle cx="406.58" cy="348.26" r="1.5" fill="none" stroke="#ff2a2a" stroke-width="0.95"/><circle cx="407.97" cy="349.96" r="1.5" fill="none" stroke="#ff2a2a" stroke-width="0.95"/><circle cx="409.52" cy="351.52" r="1.5" fill="none" stroke="#ff2a2a" stroke-width="0.95"/><circle cx="411.07" cy="353.07" r="1.5" fill="none" stroke="#ff2a2a" stroke-width="0.95"/><circle cx="412.5" cy="354.74" r="1.5" fill="none" stroke="#ff2a2a" stroke-width="0.95"/><circle cx="413.92" cy="356.43" r="1.5" fill="none" stroke="#ff2a2a" stroke-width="0.95"/><circle cx="415.79" cy="357.42" r="1.5" fill="none" stroke="#ff2a2a" stroke-width="0.95"/><circle cx="417.89" cy="358.05" r="1.5" fill="none" stroke="#ff2a2a" stroke-width="0.95"/><circle cx="419.96" cy="358.79" r="1.5" fill="none" stroke="#ff2a2a" stroke-width="0.95"/><circle cx="422.02" cy="359.56" r="1.5" fill="none" stroke="#ff2a2a" stroke-width="0.95"/><circle cx="424.08" cy="360.32" r="1.5" fill="none" stroke="#ff2a2a" stroke-width="0.95"/><circle cx="426.19" cy="360.95" r="1.5" fill="none" stroke="#ff2a2a" stroke-width="0.95"/><circle cx="428.29" cy="361.57" r="1.5" fill="none" stroke="#ff2a2a" stroke-width="0.95"/><circle cx="430.4" cy="362.2" r="1.5" fill="none" stroke="#ff2a2a" stroke-width="0.95"/>
<text x="416.6" y="375.2" font-size="6.4" text-anchor="start" font-weight="bold" fill="#ff2424" >76%</text>
<text x="522.4" y="357" font-size="6.4" text-anchor="start" font-weight="bold" fill="#333" >92%</text>
<text transform="translate(380,389.4) rotate(-90)" x="0" y="0" font-size="7.7" text-anchor="middle" dominant-baseline="central" font-weight="bold" fill="#000">Capacity retention (%)</text>
<text x="467" y="464.8" font-size="7.9" text-anchor="middle" font-weight="bold" fill="#000" >Cycle number</text>
</svg></body></html>
